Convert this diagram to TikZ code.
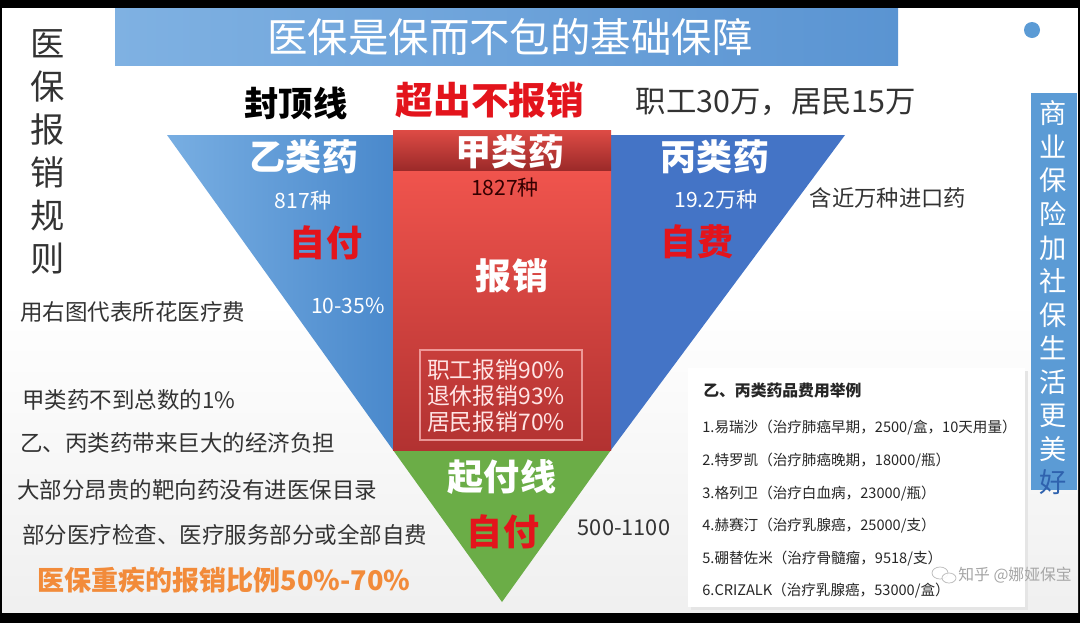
\documentclass[tikz,border=0pt]{standalone}
\usepackage{fontspec}
\setmainfont{Noto Sans CJK SC}
\usetikzlibrary{positioning}
\definecolor{bannerblue}{HTML}{7FB1E2}
\definecolor{bannerdark}{HTML}{5A94D2}
\definecolor{leftblue}{HTML}{78AEE2}
\definecolor{leftbluedark}{HTML}{4A89CC}
\definecolor{rightblue}{HTML}{4474C6}
\definecolor{colred}{HTML}{F0544D}
\definecolor{colreddark}{HTML}{B23231}
\definecolor{headred}{HTML}{DE4B45}
\definecolor{headreddark}{HTML}{9C2A29}
\definecolor{startgreen}{HTML}{6BAD47}
\definecolor{payred}{HTML}{E3141C}
\definecolor{notegray}{HTML}{333333}
\definecolor{ratioorange}{HTML}{F28B3A}
\definecolor{sidebar}{HTML}{5B9BD5}
\definecolor{sidebardark}{HTML}{2F62AE}

\begin{document}
\begin{tikzpicture}[x=0.02cm, y=-0.02cm,
    bigwhite/.style={text=white, font=\bfseries\fontsize{20.5}{21}\selectfont, inner sep=0pt},
    bigred/.style={text=payred, font=\bfseries\fontsize{20.5}{21}\selectfont, inner sep=0pt},
    countnote/.style={text=white, font=\fontsize{12}{12}\selectfont, inner sep=0pt},
    ratenote/.style={text=red!10!white, font=\fontsize{13}{13}\selectfont, inner sep=0pt},
    sidenote/.style={anchor=west, text=notegray, font=\fontsize{12.8}{13}\selectfont, inner sep=0pt},
    listitem/.style={anchor=west, text=black!85, font=\fontsize{8.3}{9}\selectfont, inner sep=0pt}]
  \useasboundingbox (0,0) rectangle (1080,623);
  % frame and banner
  \fill[black] (0,0) rectangle (1080,623);
  \fill[white] (2,8) rectangle (1078,612);
  \shade[top color=white, bottom color=black!6] (2,300) rectangle (1078,612);
  \shade[left color=bannerblue, right color=bannerdark] (115,8) rectangle (898,65);
  \node[text=white, font=\fontsize{23}{23}\selectfont] (title) at (510,37) {医保是保而不包的基础保障};
  \fill[sidebar] (1032,30) circle (8);
  \node[text=notegray, font=\fontsize{19.5}{24.4}\selectfont, align=center] (rules) at (48,152) {医\\保\\报\\销\\规\\则};
  % top line
  \node[text=black, font=\bfseries\fontsize{19.5}{20}\selectfont] (cap) at (296,103) {封顶线};
  \node[text=payred, font=\bfseries\fontsize{21.5}{22}\selectfont] (over) at (490,100) {超出不报销};
  \node[text=notegray, font=\fontsize{17.3}{18}\selectfont] (caps) at (776,102) {职工30万，居民15万};
  % inverted triangle
  \shade[left color=leftblue, right color=leftbluedark] (167,135) -- (393,135) -- (393,450) -- cycle;
  \fill[rightblue] (611,135) -- (845,135) -- (611,450) -- cycle;
  \fill[startgreen] (393,450) -- (611,450) -- (502,602) -- cycle;
  \shade[top color=colred, bottom color=colreddark] (393,170) rectangle (611,450);
  \shade[top color=headred, bottom color=headreddark] (393,130) rectangle (611,170);
  \draw[red!25!white, opacity=0.7, line width=0.6pt] (420,350) rectangle (582,440);
  % class B
  \node[bigwhite] (classb) at (304,157) {乙类药};
  \node[countnote] (classbnum) at (303,200) {817种};
  \node[bigred] (classbpay) at (326,243) {自付};
  \node[countnote] (classbrate) at (348,306) {10-35\%};
  % class A
  \node[bigwhite] (classa) at (510,152) {甲类药};
  \node[countnote, text=black!80!red] (classanum) at (505,187) {1827种};
  \node[bigwhite] (refund) at (512,276) {报销};
  \node[ratenote] (rate1) at (496,370) {职工报销90\%};
  \node[ratenote] (rate2) at (496,396) {退休报销93\%};
  \node[ratenote] (rate3) at (496,422) {居民报销70\%};
  % class C
  \node[bigwhite] (classc) at (715,157) {丙类药};
  \node[countnote] (classcnum) at (716,200) {19.2万种};
  \node[bigred] (classcpay) at (697,242) {自费};
  \node[text=notegray, font=\fontsize{12.7}{13}\selectfont] (imported) at (888,198) {含近万种进口药};
  % deductible
  \node[bigwhite] (start) at (502,477) {起付线};
  \node[bigred] (startpay) at (503,532) {自付};
  \node[text=notegray, font=\fontsize{12.4}{13}\selectfont] (startrange) at (624,528) {500-1100};
  % left notes
  \node[sidenote] (note1) at (20,312) {用右图代表所花医疗费};
  \node[sidenote] (note2) at (22,400) {甲类药不到总数的1\%};
  \node[sidenote] (note3) at (20,443) {乙、丙类药带来巨大的经济负担};
  \node[sidenote] (note4) at (17,490) {大部分昂贵的靶向药没有进医保目录};
  \node[sidenote] (note5) at (22,535) {部分医疗检查、医疗服务部分或全部自费};
  \node[sidenote, text=ratioorange, font=\bfseries\fontsize{15.4}{16}\selectfont] (ratio) at (37,580) {医保重疾的报销比例50\%-70\%};
  % right side bar
  \fill[sidebar] (1031,93) rectangle (1077,490);
  \node[text=white, font=\fontsize{15.5}{19.1}\selectfont, align=center] (slogan) at (1053,298) {商\\业\\保\\险\\加\\社\\保\\生\\活\\更\\美\\\textcolor{sidebardark}{好}};
  % example box
  \fill[black!10] (691,371) rectangle (1028,610);
  \fill[white] (688,368) rectangle (1025,607);
  \node[listitem, font=\bfseries\fontsize{9}{9}\selectfont] (listtitle) at (703,390) {乙、丙类药品费用举例};
  \node[listitem] (item1) at (702,428) {1.易瑞沙（治疗肺癌早期，2500/盒，10天用量）};
  \node[listitem] (item2) at (702,461) {2.特罗凯（治疗肺癌晚期，18000/瓶）};
  \node[listitem] (item3) at (702,494) {3.格列卫（治疗白血病，23000/瓶）};
  \node[listitem] (item4) at (702,526) {4.赫赛汀（治疗乳腺癌，25000/支）};
  \node[listitem] (item5) at (702,559) {5.硼替佐米（治疗骨髓瘤，9518/支）};
  \node[listitem] (item6) at (702,591) {6.CRIZALK（治疗乳腺癌，53000/盒）};
  % watermark
  \draw[black!30, fill=white, opacity=0.9] (940,573) ellipse (8 and 6);
  \draw[black!30, fill=white, opacity=0.9] (949,578) ellipse (7 and 5);
  \node[anchor=west, text=black!35, font=\fontsize{9}{9}\selectfont, inner sep=0pt] (mark) at (958,575) {知乎 @娜娅保宝};
\end{tikzpicture}
\end{document}
